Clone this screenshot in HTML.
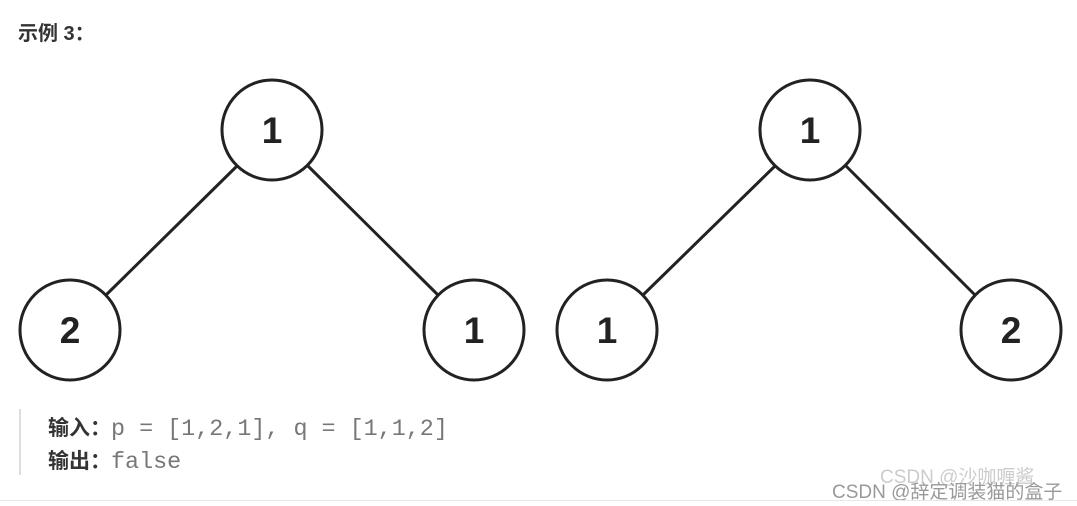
<!DOCTYPE html>
<html><head><meta charset="utf-8"><style>
body{margin:0;width:1077px;height:506px;background:#fff;position:relative;overflow:hidden;font-family:"Liberation Sans","Noto Sans CJK SC",sans-serif}
.t{position:absolute;left:18px;top:17px;font-size:20px;font-weight:bold;color:#333}
.bar{position:absolute;left:19px;top:409px;width:2px;height:66px;background:#ddd}
.l{position:absolute;left:48px;font-size:21px;color:#333}
.l b{font-weight:bold}
.l span{font-family:"Liberation Mono",monospace;color:#777;font-size:23.4px}
.w{position:absolute;font-size:18px;color:#999}
.hr{position:absolute;left:0;top:500px;width:1077px;height:1px;background:#e8e8e8}
</style></head><body>
<div class="t">示例 3：</div>
<svg width="1077" height="506" style="position:absolute;left:0;top:0" font-family="Liberation Sans" font-weight="bold" font-size="37">
<g stroke="#222" stroke-width="3" fill="none">
<line x1="237" y1="166" x2="106" y2="295"/><line x1="308" y1="166" x2="438" y2="295"/>
<line x1="775" y1="166" x2="643" y2="295"/><line x1="846" y1="166" x2="975" y2="295"/>
<circle cx="272" cy="130" r="50"/><circle cx="70" cy="330" r="50"/><circle cx="474" cy="330" r="50"/>
<circle cx="810" cy="130" r="50"/><circle cx="607" cy="330" r="50"/><circle cx="1011" cy="330" r="50"/>
</g>
<g fill="#222" text-anchor="middle">
<text x="272" y="143">1</text><text x="70" y="343">2</text><text x="474" y="343">1</text>
<text x="810" y="143">1</text><text x="607" y="343">1</text><text x="1011" y="343">2</text>
</g></svg>
<div class="bar"></div>
<div class="l" style="top:412px"><b>输入：</b><span>p = [1,2,1], q = [1,1,2]</span></div>
<div class="l" style="top:445px"><b>输出：</b><span>false</span></div>
<div class="w" style="left:880px;top:462px;color:#ccc;font-size:19px">CSDN @沙咖喱酱</div>
<div class="w" style="left:832px;top:477px;font-size:19px">CSDN @辞定调装猫的盒子</div>
<div class="hr"></div>
</body></html>
